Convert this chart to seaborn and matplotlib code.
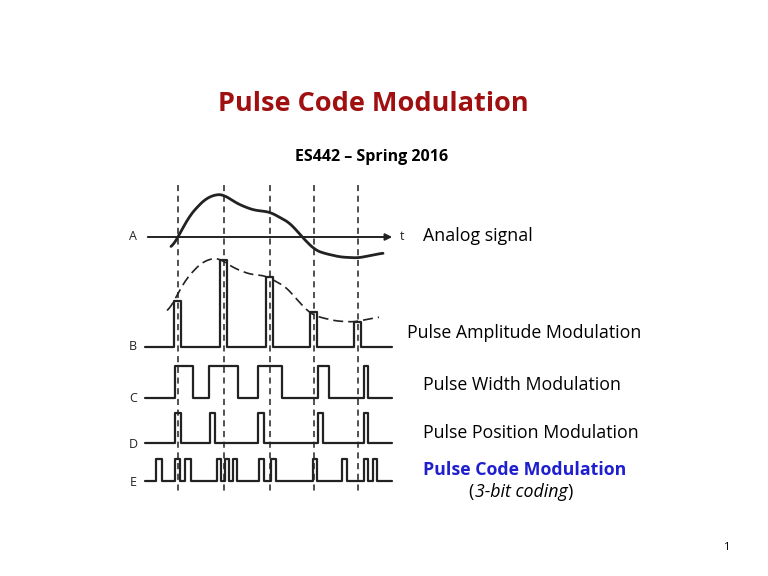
import numpy as np
import matplotlib.pyplot as plt
import seaborn as sns

sns.set_style("white")
plt.rcParams['font.family'] = ['Open Sans', 'DejaVu Sans']

# page-pixel layout of the scanned diagram
sample_x = [178, 224, 270, 314, 358]
analog_x = [171, 178, 190, 205, 217, 224, 238, 253, 270, 290, 303, 315, 323, 340, 358, 383]
analog_y = [249, 237, 215, 199, 194, 195, 204, 210, 212, 223, 238, 250, 253, 257, 258, 253]
pam_shift = 64

pwm_edges = [(175, 193), (209, 238), (258, 282), (318, 329), (364, 368)]
ppm_edges = [(175, 181), (210, 215), (258, 264), (318, 323), (364, 368)]
pcm_edges = [(156, 162), (175, 180), (185, 191), (217, 221), (225, 229), (233, 237),
             (259, 264), (271, 276), (313, 317), (342, 347), (364, 368), (373, 377)]

fig = plt.figure(figsize=(7.68, 5.76), dpi=100)
ax = fig.add_axes([0, 0, 1, 1])
ax.set_xlim(0, 768)
ax.set_ylim(576, 0)
ax.axis('off')
lw = 1.6
col = '#222222'

for x in sample_x:
    ax.plot([x, x], [185, 492], ls=(0, (4, 3)), color=col, lw=1.1)

# A: analog signal
ax.annotate('', xy=(395, 237), xytext=(145, 237),
            arrowprops=dict(arrowstyle='-|>', color=col, lw=1.4))
ax.text(400, 237, 't', ha='left', va='center', fontsize=9, color=col)
xs = np.linspace(analog_x[0], analog_x[-1], 300)
ys = np.interp(xs, analog_x, analog_y)
ys = np.convolve(np.pad(ys, 8, mode='edge'), np.ones(17) / 17, mode='valid')
sns.lineplot(x=xs, y=ys, ax=ax, color=col, lw=2, sort=False)

# B: PAM
sns.lineplot(x=xs - 4, y=ys + pam_shift, ax=ax, color=col, lw=1.2, ls=(0, (6, 3)), sort=False)
bx, by = [145], [347]
for x in sample_x:
    top = np.interp(x, xs, ys) + pam_shift
    bx += [x - 4, x - 4, x + 3, x + 3]
    by += [347, top, top, 347]
bx.append(392); by.append(347)
ax.plot(bx, by, color=col, lw=lw)


def train(edges, base, top):
    px, py = [145], [base]
    for a, b in edges:
        px += [a, a, b, b]
        py += [base, top, top, base]
    px.append(392); py.append(base)
    ax.plot(px, py, color=col, lw=lw)


train(pwm_edges, 398, 366)
train(ppm_edges, 443, 413)
train(pcm_edges, 481, 459)

for lab, y in zip('ABCDE', [237, 347, 398, 445, 483]):
    ax.text(133, y, lab, ha='center', va='center', fontsize=9, color=col)

ax.text(373, 104, 'Pulse Code Modulation', ha='center', va='center',
        fontsize=19.5, fontweight='bold', color='#a01010')
ax.text(372, 157, 'ES442 – Spring 2016', ha='center', va='center',
        fontsize=11.5, fontweight='bold', color='black')
fs = 12.8
ax.text(423, 236, 'Analog signal', va='center', fontsize=fs, color='black')
ax.text(407, 333, 'Pulse Amplitude Modulation', va='center', fontsize=fs, color='black')
ax.text(423, 385, 'Pulse Width Modulation', va='center', fontsize=fs, color='black')
ax.text(423, 433, 'Pulse Position Modulation', va='center', fontsize=fs, color='black')
ax.text(423, 470, 'Pulse Code Modulation', va='center', fontsize=fs,
        fontweight='bold', color='#1f1fd0')
ax.text(468, 492, '(', va='center', fontsize=fs, color='black')
ax.text(475, 492, '3-bit coding', va='center', fontsize=fs, style='italic', color='black')
ax.text(567, 492, ')', va='center', fontsize=fs, color='black')
ax.text(726, 548, '1', ha='center', va='center', fontsize=8, color='black')

fig.savefig('out.png', dpi=100)
